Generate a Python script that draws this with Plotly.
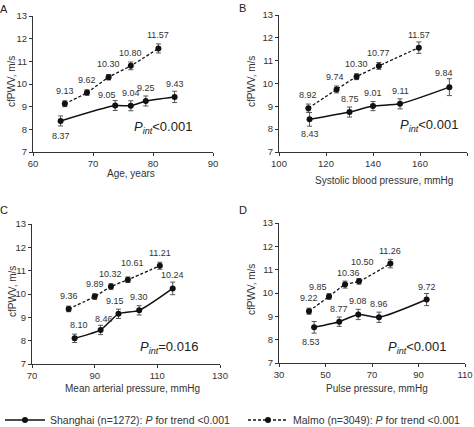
import plotly.graph_objects as go

# ---- data (group means of cfPWV, m/s, with SE) ----
# A: age, years
age_ma_x = [65.3, 69.0, 72.6, 76.3, 80.9]
age_ma_y = [9.13, 9.62, 10.30, 10.80, 11.57]
age_ma_err = [0.13, 0.12, 0.12, 0.17, 0.20]
age_sh_x = [64.6, 73.7, 76.3, 78.8, 83.6]
age_sh_y = [8.37, 9.05, 9.04, 9.25, 9.43]
age_sh_err = [0.22, 0.22, 0.22, 0.22, 0.25]

# B: systolic blood pressure, mmHg
sbp_ma_x = [112.5, 124.5, 133.0, 142.5, 159.5]
sbp_ma_y = [8.92, 9.74, 10.30, 10.77, 11.57]
sbp_ma_err = [0.18, 0.15, 0.13, 0.15, 0.25]
sbp_sh_x = [113.0, 130.0, 140.0, 151.5, 172.5]
sbp_sh_y = [8.43, 8.75, 9.01, 9.11, 9.84]
sbp_sh_err = [0.30, 0.22, 0.20, 0.22, 0.37]

# C: mean arterial pressure, mmHg
map_ma_x = [81.7, 90.0, 95.2, 100.6, 110.8]
map_ma_y = [9.36, 9.89, 10.32, 10.61, 11.21]
map_ma_err = [0.12, 0.12, 0.12, 0.12, 0.15]
map_sh_x = [83.6, 91.9, 97.6, 104.2, 114.9]
map_sh_y = [8.10, 8.46, 9.15, 9.30, 10.24]
map_sh_err = [0.18, 0.20, 0.20, 0.20, 0.27]

# D: pulse pressure, mmHg
pp_ma_x = [42.9, 51.5, 58.4, 64.4, 77.9]
pp_ma_y = [9.22, 9.85, 10.36, 10.50, 11.26]
pp_ma_err = [0.13, 0.12, 0.15, 0.12, 0.18]
pp_sh_x = [45.1, 55.9, 64.1, 73.0, 93.5]
pp_sh_y = [8.53, 8.77, 9.08, 8.96, 9.72]
pp_sh_err = [0.25, 0.20, 0.22, 0.22, 0.26]

y_ticks = [7, 8, 9, 10, 11, 12, 13]

sh_name = "Shanghai (n=1272): <i>P</i> for trend &lt;0.001"
ma_name = "Malmo (n=3049): <i>P</i> for trend &lt;0.001"

FONT = "Liberation Sans, Arial, sans-serif"
W, H = 474, 427


def px(x):
    return x / W


def py(y):
    return 1 - y / H


# label nudges (dx, dy in px) where the default "above" spot is not used
label_nudge = {
    ("A", "sh", 0): (0, -15),
    ("A", "sh", 1): (-8, 11),
    ("B", "sh", 0): (0, -15),
    ("B", "sh", 4): (-5, 14),
    ("B", "ma", 1): (-2, 12),
    ("C", "sh", 0): (4, 13),
    ("C", "sh", 1): (3, 11),
    ("C", "sh", 2): (-3, 13),
    ("C", "ma", 3): (5, 17),
    ("D", "sh", 0): (-3, -15),
    ("D", "ma", 1): (-11, 10),
    ("D", "ma", 2): (3, 12),
    ("D", "ma", 3): (4, 19),
}

panels = [
    dict(letter="A", letter_xy=(4, 9), box=(33, 213, 16, 152), xrange=[60, 90], dtick=10,
         xtitle="Age, years", xtitle_xy=(131, 173), ytitle_xy=(11, 82),
         ptext="<i>P<sub>int</sub></i>&lt;0.001", pxy=(0.72, 0.18),
         ma=(age_ma_x, age_ma_y, age_ma_err), sh=(age_sh_x, age_sh_y, age_sh_err)),
    dict(letter="B", letter_xy=(242, 8), box=(279, 467, 15, 152), xrange=[100, 180], dtick=20,
         xtitle="Systolic blood pressure, mmHg", xtitle_xy=(384, 180), ytitle_xy=(251, 82),
         ptext="<i>P<sub>int</sub></i>&lt;0.001", pxy=(0.80, 0.19),
         ma=(sbp_ma_x, sbp_ma_y, sbp_ma_err), sh=(sbp_sh_x, sbp_sh_y, sbp_sh_err)),
    dict(letter="C", letter_xy=(4, 210), box=(32, 220, 224, 364), xrange=[70, 130], dtick=20,
         xtitle="Mean arterial pressure, mmHg", xtitle_xy=(132, 388), ytitle_xy=(12, 292),
         ptext="<i>P<sub>int</sub></i>=0.016", pxy=(0.73, 0.12),
         ma=(map_ma_x, map_ma_y, map_ma_err), sh=(map_sh_x, map_sh_y, map_sh_err)),
    dict(letter="D", letter_xy=(243, 210), box=(279, 465, 223, 363), xrange=[30, 110], dtick=20,
         xtitle="Pulse pressure, mmHg", xtitle_xy=(377, 388), ytitle_xy=(251, 290),
         ptext="<i>P<sub>int</sub></i>&lt;0.001", pxy=(0.74, 0.11),
         ma=(pp_ma_x, pp_ma_y, pp_ma_err), sh=(pp_sh_x, pp_sh_y, pp_sh_err)),
]

fig = go.Figure()
annotations = []
layout_axes = {}
centred = dict(showarrow=False, xanchor="center", yanchor="middle")

for i, p in enumerate(panels):
    n = "" if i == 0 else str(i + 1)
    xa, ya = "x" + n, "y" + n
    x0, x1, y0, y1 = p["box"]

    # ── traces: Shanghai solid, Malmo dashed ────────────────────────────
    for key, name, dash, width, leg in [("sh", sh_name, "solid", 1.5, "legend"),
                                         ("ma", ma_name, "3px,2px", 1.3, "legend2")]:
        xs, ys, es = p[key]
        fig.add_trace(go.Scatter(
            x=xs, y=ys, xaxis=xa, yaxis=ya,
            mode="lines+markers",
            name=name,
            legend=leg,
            showlegend=(i == 0),
            line=dict(color="#111", width=width, dash=dash, shape="spline", smoothing=0.6),
            marker=dict(size=6, color="#111"),
            error_y=dict(type="data", array=es, visible=True, color="#555", thickness=1, width=2.5),
            cliponaxis=False,
        ))
        for j, (xv, yv) in enumerate(zip(xs, ys)):
            dx, dy = label_nudge.get((p["letter"], key, j), (0, 13))
            annotations.append(dict(
                x=xv, y=yv, xref=xa, yref=ya, text=f"{yv:.2f}",
                xshift=dx, yshift=dy, font=dict(size=9, color="#333", family=FONT), **centred,
            ))

    # ── axes ─────────────────────────────────────────────────────────────
    axis_style = dict(showline=True, linecolor="#333", linewidth=1, ticks="outside", ticklen=3,
                      tickcolor="#333", showgrid=False, zeroline=False, automargin=False,
                      tickfont=dict(size=9.5, color="#333", family=FONT))
    layout_axes["xaxis" + n] = dict(domain=[px(x0), px(x1)], anchor=ya, range=p["xrange"],
                                    dtick=p["dtick"], tick0=p["xrange"][0], **axis_style)
    layout_axes["yaxis" + n] = dict(domain=[py(y1), py(y0)], anchor=xa, range=[7, 13],
                                    tickvals=y_ticks, **axis_style)

    # ── titles, panel letter, P interaction ─────────────────────────────
    tx, ty = p["xtitle_xy"]
    annotations.append(dict(x=px(tx), y=py(ty), xref="paper", yref="paper", text=p["xtitle"],
                            font=dict(size=10, color="#333", family=FONT), **centred))
    yx, yy = p["ytitle_xy"]
    annotations.append(dict(x=px(yx), y=py(yy), xref="paper", yref="paper", text="cfPWV, m/s",
                            textangle=-90, font=dict(size=10, color="#333", family=FONT), **centred))
    lx, ly = p["letter_xy"]
    annotations.append(dict(x=px(lx), y=py(ly), xref="paper", yref="paper", text=p["letter"],
                            font=dict(size=11, color="#222", family=FONT), **centred))
    annotations.append(dict(x=p["pxy"][0], y=p["pxy"][1], xref=xa + " domain", yref=ya + " domain",
                            text=p["ptext"], font=dict(size=13, color="#222", family=FONT), **centred))

legend_style = dict(orientation="h", xanchor="left", y=py(420), yanchor="middle",
                    itemwidth=40, font=dict(size=10.5, color="#333", family=FONT),
                    bgcolor="rgba(0,0,0,0)")

fig.update_layout(
    width=W, height=H,
    margin=dict(l=0, r=0, t=0, b=0, pad=0, autoexpand=False),
    plot_bgcolor="white",
    paper_bgcolor="white",
    font=dict(family=FONT, color="#333"),
    annotations=annotations,
    legend=dict(x=px(0), **legend_style),
    legend2=dict(x=px(243), **legend_style),
    **layout_axes,
)

fig.write_html("out.html", config={"displayModeBar": False},
               post_script="document.body.style.margin='0';")
